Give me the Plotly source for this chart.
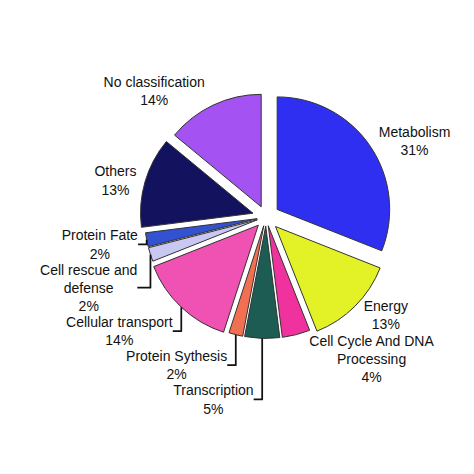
import plotly.graph_objects as go

labels = ["Metabolism", "Energy", "Cell Cycle And DNA<br>Processing", "Transcription",
          "Protein Sythesis", "Cellular transport", "Cell rescue and<br>defense",
          "Protein Fate", "Others", "No classification"]
values = [31, 13, 4, 5, 2, 14, 2, 2, 13, 14]
colors = ["#2f2ff2", "#e2f226", "#f0329e", "#1c5c52", "#f27052", "#f052b4",
          "#c8c8f2", "#3252d2", "#12125e", "#a452f2"]
pulls = [0.12, 0.12, 0.08, 0.08, 0.08, 0.1, 0.08, 0.08, 0.12, 0.1]

fig = go.Figure(go.Pie(
    labels=labels, values=values, sort=False, direction="clockwise", rotation=0,
    marker=dict(colors=colors, line=dict(color="#333333", width=1)),
    pull=pulls, texttemplate="%{label}<br>%{value}%", textposition="outside",
    textfont=dict(family="Liberation Sans", size=14, color="#111111"),
    showlegend=False,
))
fig.update_layout(width=474, height=474, margin=dict(l=60, r=60, t=50, b=50),
                  paper_bgcolor="white")
fig.write_html("out.html")
